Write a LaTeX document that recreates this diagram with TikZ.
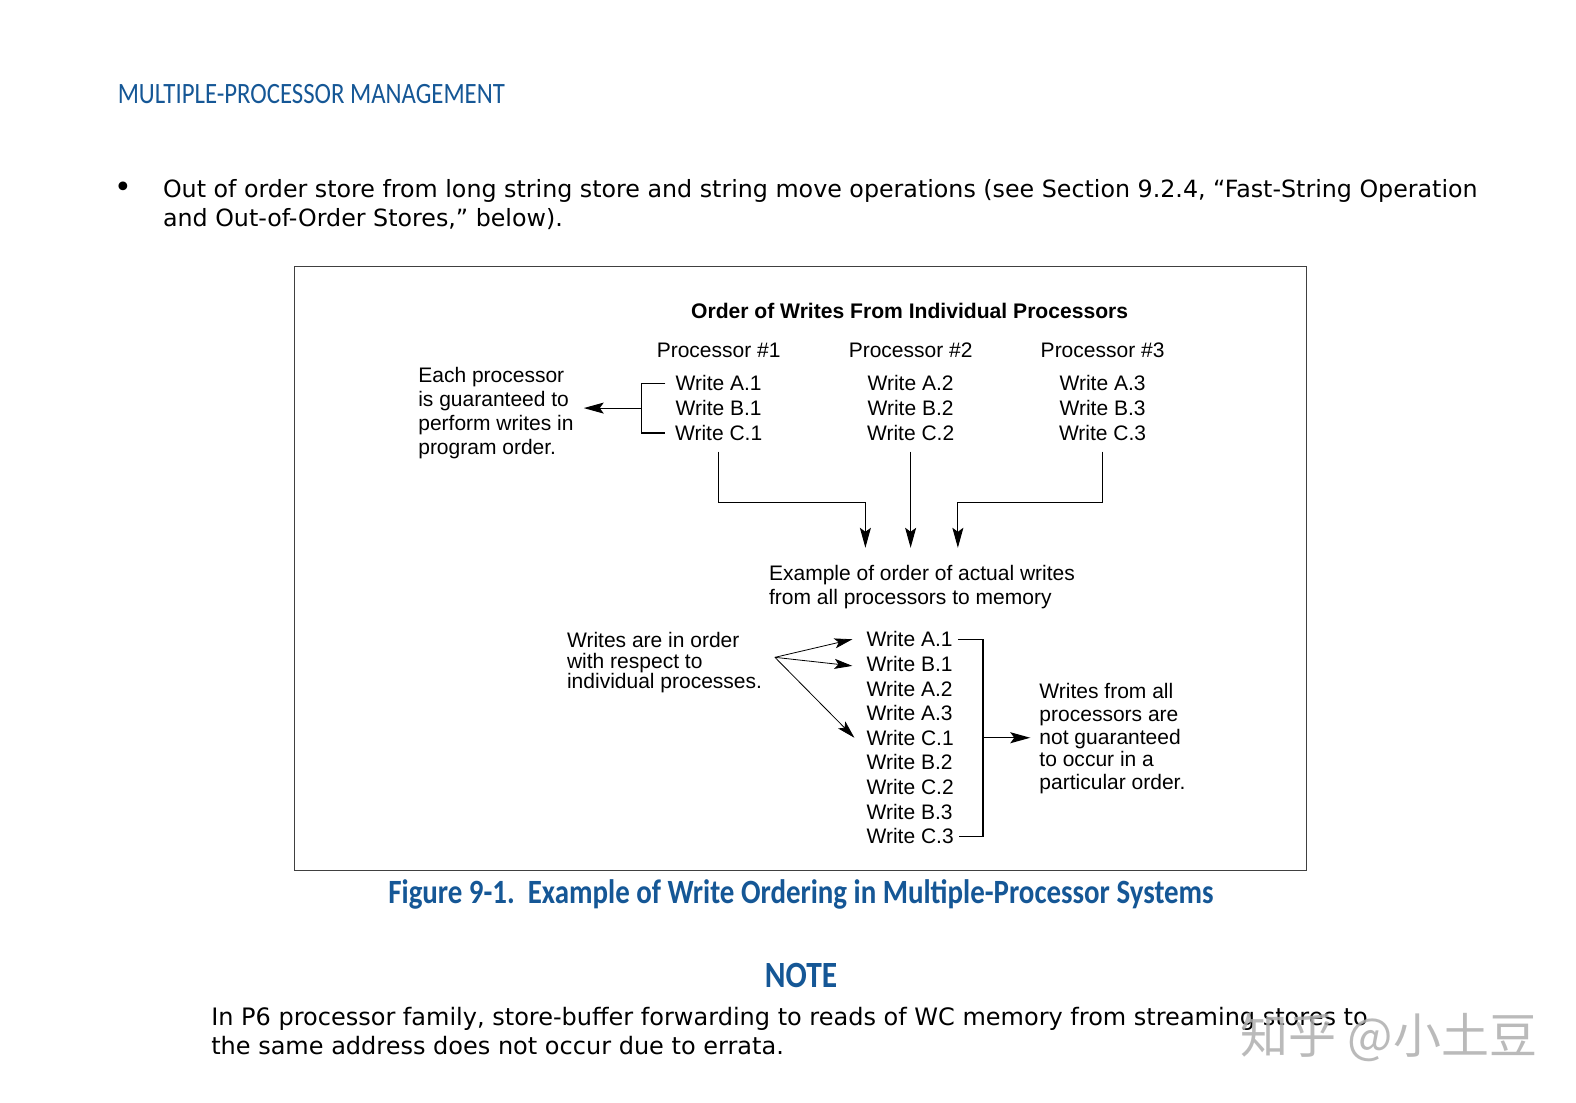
\documentclass[tikz,border=0pt]{standalone}
\usepackage{fontspec}
\setmainfont{DejaVu Sans}
\newfontfamily\figfont{Liberation Sans}
\newfontfamily\headfont[FakeStretch=0.84]{Carlito}
\newfontfamily\capfont[FakeStretch=0.85]{Carlito}
\newfontfamily\cjkfont{Noto Sans CJK SC}
\usetikzlibrary{arrows.meta, positioning, calc}
\definecolor{intelblue}{RGB}{21, 87, 150}
\definecolor{markgray}{RGB}{175, 175, 175}
\newcommand{\fsz}[2]{\fontsize{#1}{#2}\selectfont}

\begin{document}
\begin{tikzpicture}[
  x=1.005pt, y=-1.005pt,
  every node/.style={inner sep=0pt},
  body/.style={font=\fsz{#1}{29}, anchor=base west},
  body/.default=24,
  head/.style={font=\headfont\fsz{29.5}{34}, text=intelblue, anchor=base west},
  capt/.style={font=\capfont\bfseries\fsz{#1}{#1}, text=intelblue, anchor=base},
  fig/.style={font=\figfont\fsz{21}{24}},
  wr/.style={fig, anchor=west, text height=15pt, text depth=0pt},
  blurb/.style={fig, anchor=north west, align=left},
  arr/.style={-{Stealth[length=20pt, width=11pt, inset=4pt]}, line width=1.1pt},
  thin arr/.style={-{Stealth[length=18pt, width=10pt, inset=4pt]}, line width=0.8pt},
  frame/.style={draw=black!75, line width=1.2pt},
  node distance=9.5pt
]
\useasboundingbox (0,0) rectangle (1568,1096.5);
\fill[white] (0,0) rectangle (1568,1096.5);

% page text
\node[head] (hdr) at (117,103) {MULTIPLE-PROCESSOR MANAGEMENT};
\node[body=30] (dot) at (114,196) {•};
\node[body=23.75] (bl1) at (162,196) {Out of order store from long string store and string move operations (see Section 9.2.4, “Fast-String Operation};
\node[body=23.75] (bl2) at (162,225) {and Out-of-Order Stores,” below).};

% figure
\draw[frame] (293,265) rectangle (1300,866);
\node[fig, font=\figfont\bfseries\fsz{21.1}{24}, text height=15pt, text depth=0pt] (ttl) at (905,309) {Order of Writes From Individual Processors};

\foreach \i/\x in {1/715, 2/906, 3/1097} {
  \node[wr, anchor=center] (p\i) at (\x,348) {Processor \#\i};
  \node[wr, below=18pt of p\i] (a\i) {Write A.\i};
  \node[wr, below=of a\i] (b\i) {Write B.\i};
  \node[wr, below=of b\i] (c\i) {Write C.\i};
}

\node[blurb] (each) at (416,365) {Each processor\\is guaranteed to\\perform writes in\\program order.};
\coordinate (brk) at ([xshift=-34pt]b1.west);
\coordinate (eachR) at ([xshift=10pt]each.east);
\draw[line width=1.1pt] ([xshift=-10pt]a1.west) -| (brk) |- ([xshift=-10pt]c1.west);
\draw[arr] (brk) -- (eachR |- brk);

\node[blurb] (exm) at (765,562) {Example of order of actual writes\\from all processors to memory};
\coordinate (elb) at (0,500);
\coordinate (in1) at (861,545);
\coordinate (in2) at (907,545);
\coordinate (in3) at (953,545);
\draw[arr] ([yshift=-11pt]c1.south) |- (elb -| in1) -- (in1);
\draw[arr] ([yshift=-11pt]c2.south) -- (c2.south |- in2);
\draw[arr] ([yshift=-11pt]c3.south) |- (elb -| in3) -- (in3);

% order seen by memory
\foreach \w [count=\i] in {A.1,B.1,A.2,A.3,C.1,B.2,C.2,B.3,C.3}
  \node[wr] (m\i) at (862,{611.5+24.5*\i}) {Write \w};

\node[blurb, font=\figfont\fsz{21}{20.5}] (ord) at (564,629) {Writes are in order\\with respect to\\individual processes.};
\coordinate (fan) at (771,654);
\draw[thin arr] (fan) -- ([xshift=-14pt]m1.west);
\draw[thin arr] (fan) -- ([xshift=-14pt,yshift=-2pt]m2.west);
\draw[thin arr] (fan) -- ([xshift=-12pt]m5.west);

\node[blurb, font=\figfont\fsz{21}{22.6}] (alln) at (1034,680) {Writes from all\\processors are\\not guaranteed\\to occur in a\\particular order.};
\coordinate (rb) at (978,0);
\coordinate (allL) at ([xshift=-9pt]alln.west);
\draw[line width=1.1pt] ([xshift=5pt]m1.east) -- (m1.east -| rb) -- (m9.east -| rb) -- ([xshift=5pt]m9.east);
\draw[arr] (m5.east -| rb) -- (m5.east -| allL);

% caption and note
\node[capt=34] (cap) at (797,899) {Figure 9-1.\ \ Example of Write Ordering in Multiple-Processor Systems};
\node[capt=37] (nt) at (797,982) {NOTE};
\node[body] (nl1) at (210,1020) {In P6 processor family, store-buffer forwarding to reads of WC memory from streaming stores to};
\node[body] (nl2) at (210,1049) {the same address does not occur due to errata.};
\node[font=\cjkfont\fsz{48}{48}, text=markgray, opacity=0.85] (wm) at (1382,1032) {知乎 @小土豆};
\end{tikzpicture}
\end{document}
